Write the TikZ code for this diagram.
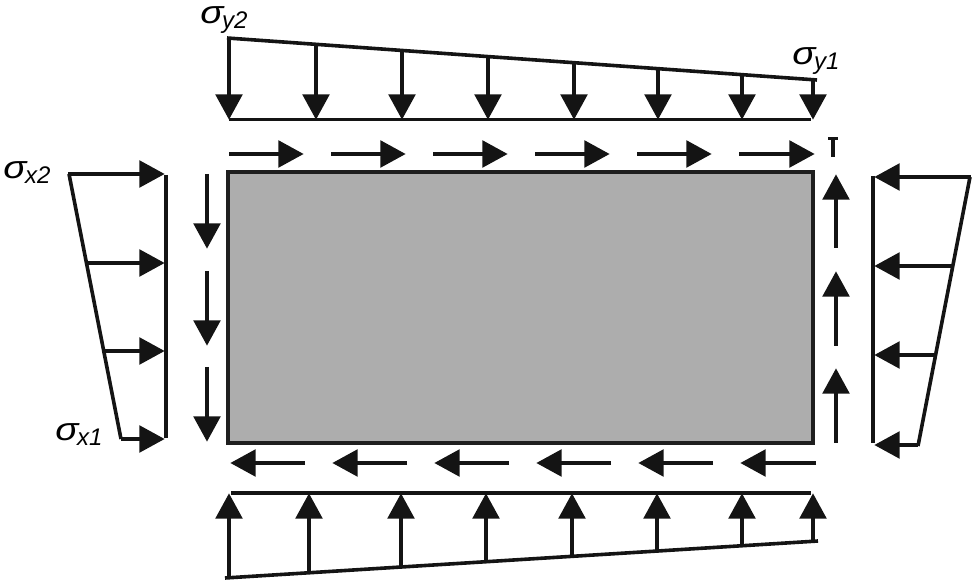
\documentclass[tikz,border=0pt]{standalone}
\usepackage{fontspec}
\setmainfont{Liberation Sans}
\usetikzlibrary{arrows.meta}
\newcommand{\sigmalabel}[1]{\scalebox{1.2}[1]{\fontsize{24pt}{24pt}\selectfont\itshape σ}\kern-1pt{\fontsize{18pt}{18pt}\selectfont\itshape\raisebox{-3.6pt}{#1}}}
\tikzset{
  x=0.75pt,y=-0.75pt,
  ink/.style={line width=2.7pt,black!92},
  load/.style={ink,-{Triangle[length=19pt,width=20pt,sep=0pt]},shorten >=-0.5pt},
  slab/.style={fill=black!32,draw=black!88,line width=3.2pt,outer sep=0pt},
  lab/.style={inner sep=0pt,anchor=base west}
}
\begin{document}
\begin{tikzpicture}
\useasboundingbox (0,0) rectangle (975,584);
% plate
\node[slab,minimum width=0.75*585pt,minimum height=0.75*271pt,inner sep=0pt,anchor=north west] (plate) at (228,172) {};
% top load
\draw[ink] (227,38) -- (817,80);
\draw[ink] (229,119.5) -- (811,119.5);
\foreach \x/\yy in {229/38,316/44,402/50,488/56,574/62,658/68,742/74,813/80}
  \draw[load] (\x,\yy) -- (\x,119);
% bottom load
\draw[ink] (225,578) -- (818,541);
\draw[ink] (231,493) -- (811,493);
\foreach \x/\yy in {229/578,309/573,401/567,486/562,572/557,657/552,742/546,813/541}
  \draw[load] (\x,\yy) -- (\x,494);
% top shear
\foreach \a/\b in {229/303,331/405,433/507,535/609,637/711,739/814}
  \draw[load] (\a,154) -- (\b,154);
% bottom shear
\foreach \a/\b in {305/231,407/333,509/435,611/537,713/639,816/741}
  \draw[load] (\a,463) -- (\b,463);
% left shear
\foreach \a/\b in {174/248,271/345,367/441}
  \draw[load] (207,\a) -- (207,\b);
% right shear
\foreach \a/\b in {443/369,346/272,248/175}
  \draw[load] (836,\a) -- (836,\b);
\draw[ink] (833,139) -- (833,157);
\draw[ink] (828,138.5) -- (838,138.5);
% left load
\draw[ink] (166,175) -- (166,438);
\draw[ink] (69,174) -- (121,439);
\draw[load] (68,174) -- (164,174);
\draw[load] (86,263) -- (164,263);
\draw[load] (104,351) -- (164,351);
\draw[load] (121,439) -- (164,439);
% right load
\draw[ink] (873,176) -- (873,443);
\draw[ink] (970,177) -- (918,446);
\draw[load] (971,177) -- (875,177);
\draw[load] (953,266) -- (875,266);
\draw[load] (936,355) -- (875,355);
\draw[load] (918,445) -- (875,445);
% labels
\node[lab] (sy2) at (200,24) {\sigmalabel{y2}};
\node[lab] (sy1) at (792,65) {\sigmalabel{y1}};
\node[lab] (sx2) at (3,179) {\sigmalabel{x2}};
\node[lab] (sx1) at (55,441) {\sigmalabel{x1}};
\end{tikzpicture}
\end{document}
